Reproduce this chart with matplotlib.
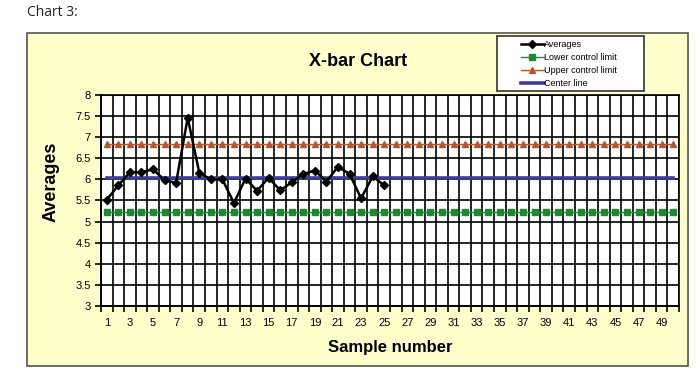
import matplotlib.pyplot as plt
from matplotlib.patches import Rectangle
from matplotlib.ticker import MultipleLocator, FormatStrFormatter
import numpy as np

# data
averages = [5.52, 5.86, 6.17, 6.17, 6.24, 5.98, 5.92, 7.46, 6.16, 6.0,
            6.0, 5.44, 6.02, 5.73, 6.04, 5.74, 5.93, 6.13, 6.21, 5.95,
            6.3, 6.13, 5.55, 6.07, 5.86]
n_samples = 50
lower_limit = 5.22
upper_limit = 6.85
center = 6.03

samples = np.arange(1, n_samples + 1)
avg_x = samples[:len(averages)]

plt.rcParams["font.family"] = ["Liberation Sans", "DejaVu Sans"]

fig = plt.figure(figsize=(7, 3.87), dpi=100)

# yellow chart area
fig.patches.append(
    Rectangle(
        (27 / 700, 1 - 366 / 387),
        (688 - 27) / 700,
        (366 - 33) / 387,
        transform=fig.transFigure,
        facecolor="#FFFFCC",
        edgecolor="#555555",
        linewidth=1.2,
        zorder=-5
    )
)

# legend box
fig.patches.append(
    Rectangle(
        (497 / 700, 1 - 91 / 387),
        (644 - 497) / 700,
        (91 - 36) / 387,
        transform=fig.transFigure,
        facecolor="white",
        edgecolor="#333333",
        linewidth=1.2,
        zorder=-4
    )
)

fig.text(
    27 / 700, 1 - 13 / 387,
    "Chart 3:",
    fontsize=10,
    family=["Open Sans", "DejaVu Sans"],
    va="center",
    ha="left",
    color="#222222"
)

ax = fig.add_axes([101 / 700, 1 - 306 / 387, (679 - 101) / 700, (306 - 95) / 387])
ax.set_zorder(2)
ax.set_facecolor("white")

ax.plot(
    samples, np.full(n_samples, lower_limit),
    color="#1E8A30", linewidth=1, marker="s", markersize=4,
    label="Lower control limit", zorder=3
)
ax.plot(
    samples, np.full(n_samples, upper_limit),
    color="#B8552C", linewidth=1, marker="^", markersize=4,
    label="Upper control limit", zorder=3
)
ax.plot(
    samples, np.full(n_samples, center),
    color="#3C3C9C", linewidth=2.6,
    label="Center line", zorder=3
)
ax.plot(
    avg_x, averages,
    color="black", linewidth=1.8, marker="D", markersize=4,
    label="Averages", zorder=4
)

ax.set_xlim(0.5, n_samples + 0.5)
ax.set_ylim(3, 8)

ax.set_xticks(np.arange(1, n_samples + 1, 2))
ax.set_xticks(np.arange(0.5, n_samples + 1), minor=True)
ax.yaxis.set_major_locator(MultipleLocator(0.5))
ax.yaxis.set_major_formatter(FormatStrFormatter("%g"))

ax.tick_params(axis="x", which="major", length=0, labelsize=8, pad=9)
ax.tick_params(axis="x", which="minor", length=4, width=1.2)
ax.tick_params(axis="y", which="major", length=4, width=1.2, labelsize=8)

ax.grid(True, axis="x", which="minor", color="black", linewidth=1.2)
ax.grid(True, axis="y", which="major", color="black", linewidth=1.2)
ax.set_axisbelow(True)

for side in ["top", "right"]:
    ax.spines[side].set_linewidth(1.2)
for side in ["left", "bottom"]:
    ax.spines[side].set_linewidth(1.4)

fig.text(358 / 700, 1 - 61 / 387, "X-bar Chart",
         fontsize=13, fontweight="bold", ha="center", va="center")

ax.set_xlabel("Sample number", fontsize=12, fontweight="bold")
ax.xaxis.set_label_coords(0.5, -0.16)
ax.set_ylabel("Averages", fontsize=13, fontweight="bold")
ax.yaxis.set_label_coords(-0.071, 0.59)

handles, labels = ax.get_legend_handles_labels()
order = [3, 0, 1, 2]
leg = fig.legend(
    [handles[i] for i in order],
    [labels[i] for i in order],
    loc="upper left",
    bbox_to_anchor=(521 / 700, 1 - 40 / 387),
    fontsize=6.5,
    frameon=False,
    handlelength=2.5,
    labelspacing=0.45,
    borderpad=0,
    handletextpad=0.1,
    borderaxespad=0
)
leg.set_zorder(5)

fig.savefig("out.png", dpi=100)
